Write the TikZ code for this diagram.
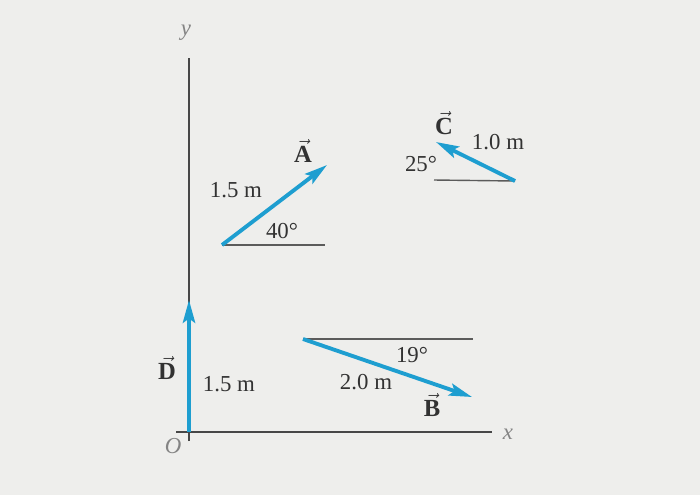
\documentclass[tikz,border=0pt]{standalone}
\usepackage{fontspec}
\setmainfont{Liberation Serif}
\usetikzlibrary{arrows.meta}
\definecolor{vecblue}{RGB}{30,158,208}
\definecolor{paper}{RGB}{238,238,236}
\definecolor{ink}{RGB}{50,50,50}

\begin{document}
\begin{tikzpicture}[x=0.02cm, y=-0.02cm,
		vec_style/.style={draw=vecblue,line width=2.2pt,-{Stealth[length=13pt,width=7pt,inset=2.5pt]}},
		axis_style/.style={draw=ink!90,line width=1.3pt},
		ref_style/.style={draw=ink!80,line width=0.8pt},
		label_style/.style={text=ink,inner sep=1pt,font=\fontsize{13}{15}\selectfont},
		name_style/.style={text=ink,inner sep=1pt,font=\fontsize{14}{16}\selectfont},
		axlabel_style/.style={text=ink!60,inner sep=1pt,font=\fontsize{13}{15}\selectfont\itshape}]
		
		\fill[paper] (0,0) rectangle (700,495);
		\useasboundingbox (0,0) rectangle (700,495);
		
		% axes
		\coordinate (O) at (189,432);
		\coordinate (ytop) at (189,58);
		\coordinate (ybot) at (189,441);
		\coordinate (xleft) at (176,432);
		\coordinate (xright) at (492,432);
		\draw[axis_style] (ybot) -- (ytop);
		\draw[axis_style] (xleft) -- (xright);
		\node[axlabel_style] (ylab) at (186,33) {y};
		\node[axlabel_style] (xlab) at (508,434) {x};
		\node[axlabel_style] (olab) at (173,446) {O};
		
		% vector D
		\coordinate (Dtip) at (189,300);
		\draw[vec_style] (O) -- (Dtip);
		\node[name_style] (Dname) at (167,368) {$\vec{\textbf{D}}$};
		\node[label_style] (Dlen) at (229,384) {1.5 m};
		
		% vector A
		\coordinate (Atail) at (222,245);
		\coordinate (Atip) at (327,165);
		\coordinate (Aref) at (325,245);
		\draw[ref_style] (Atail) -- (Aref);
		\draw[vec_style] (Atail) -- (Atip);
		\node[name_style] (Aname) at (303,151) {$\vec{\textbf{A}}$};
		\node[label_style] (Alen) at (236,190) {1.5 m};
		\node[label_style] (Aang) at (282,231) {40°};
		
		% vector C
		\coordinate (Ctail) at (515,181);
		\coordinate (Ctip) at (436,142);
		\coordinate (Cref) at (434,180);
		\draw[ref_style] (Cref) -- (Ctail);
		\draw[vec_style] (Ctail) -- (Ctip);
		\node[name_style] (Cname) at (444,123) {$\vec{\textbf{C}}$};
		\node[label_style] (Clen) at (498,142) {1.0 m};
		\node[label_style] (Cang) at (421,164) {25°};
		
		% vector B
		\coordinate (Btail) at (303,339);
		\coordinate (Btip) at (472,397);
		\coordinate (Bref) at (473,339);
		\draw[ref_style] (Btail) -- (Bref);
		\draw[vec_style] (Btail) -- (Btip);
		\node[name_style] (Bname) at (432,405) {$\vec{\textbf{B}}$};
		\node[label_style] (Blen) at (366,382) {2.0 m};
		\node[label_style] (Bang) at (412,355) {19°};
		
\end{tikzpicture}
\end{document}
